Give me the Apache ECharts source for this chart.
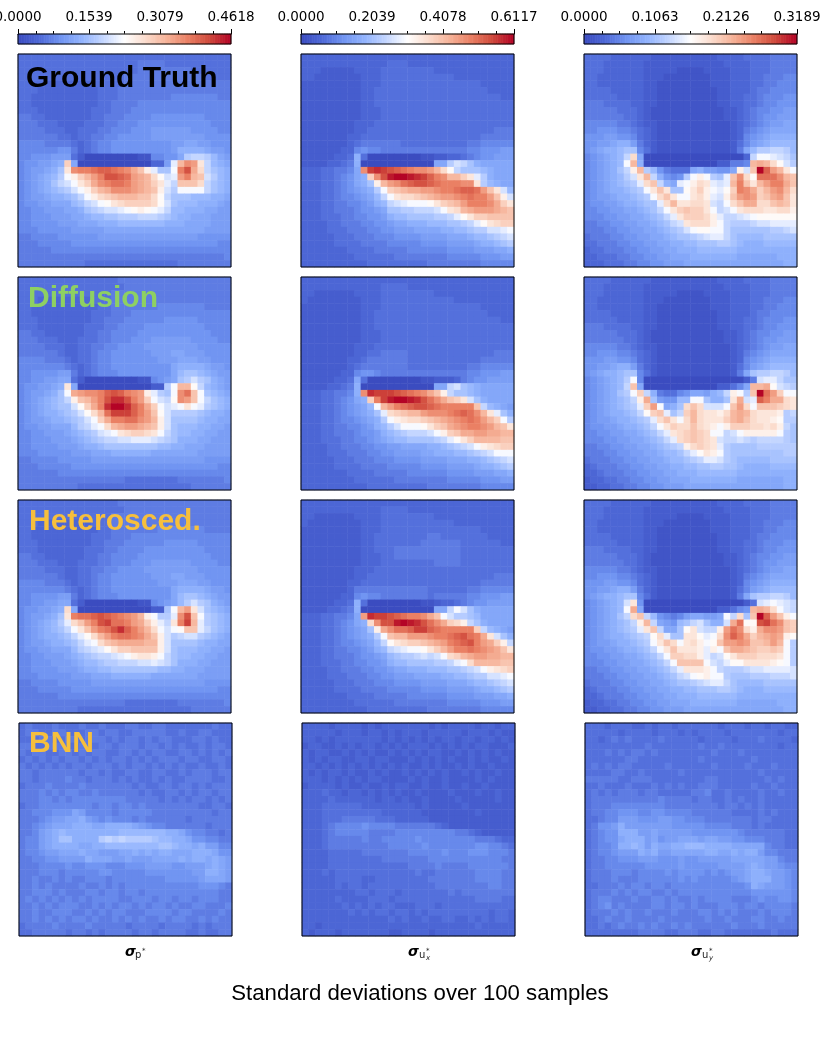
<!DOCTYPE html>
<html>
<head>
<meta charset="utf-8">
<style>html,body{margin:0;padding:0;background:#fff}#chart{width:831px;height:1038px}</style>
<script src="https://cdn.jsdelivr.net/npm/echarts@6/dist/echarts.min.js"></script>
</head>
<body>
<div id="chart"></div>
<script>
// each row is 32 cells, one base-36 digit per cell: 0 = bottom of the colour bar, z = top
const gtP = [
"44444444 44444444 44444444 44444444","44444444 44444444 44555544 44444444","44444444 44444444 44555555 55444444","44444444 44444444 55555555 55554444",
"44443333 33344444 55555555 55555555","44433333 33334445 55555555 55555555","44333333 33334445 55555556 66666655","44333333 33334455 55666666 66666666",
"44433333 33344455 56666666 66666666","55443333 33344555 66667777 77776666","55544433 33444556 66777777 77777666","55554443 34445566 67778888 88777766",
"55555544 34455667 77778888 88887777","66665555 43456677 77777778 89988777","66666677 53456677 77777778 aaaa9887","66777888 42000000 00116677 9deedb98",
"677889am 90000000 0000338g orqkeba9","67889ack rsstuuts rpnjgcch svplecba","6789abdh jmoqsvvu tqpolifg qsonfdba","6789acef hkmprstt sqpomkge nnnlecba",
"6789abcd fhjmoprr rqponjfd hhhhecba","67889aab cehjlmno oonnliec ccbbbaa9","67788999 bcefhikl mmmmlifc bbbaaa98","66778889 9acdeffg hijihgeb baaa9988",
"66777888 99abbccd ddeeedcb aa999888","66777788 8999aaab bbbbbbaa a9999888","66677777 88888999 99999999 99998888","55666677 77778888 88888888 88877777",
"55566666 77777777 77777777 77777766","55555666 66666666 66666666 66666666","55555555 55555555 55555555 55555556","55555555 55444444 44444444 55555555"];
const gtUx = [
"33333333 33333333 33333333 33333333","33333333 33333444 33333333 33333333","33322222 33334444 44443333 33333333","33222222 23334444 44444443 33333333",
"22222222 23334444 44444444 44433333","22222222 23344444 44444444 44443333","22222222 23344444 44444444 44444433","22222222 23344444 44444444 44444444",
"22222222 23334444 44444444 44444444","22222222 23334444 44444444 44444444","22222222 33344444 44444444 44444444","22222222 33444444 44444444 44444555",
"22222223 34444444 44444444 44455555","22222223 45555554 44444444 45566666","22222233 67665555 55555555 56677788","22222334 a4000000 00112233 45677888",
"22223345 a0000000 000099df eca99999","33344556 9rwxwvut srrqolie cccba999","33344567 9amrvyzz yxwusroo mkgda999","33344567 9acjoqrt uvvutsss rrkdba99",
"33344567 89adhmno ppqqrsst uutqnkfb","33344566 789behkl lmnopqqr stssqnjf","33344556 678abefg hhhikmno qsssrpmk","33344555 67789ccd deeefhkl opqqqpon",
"33344455 66778abb ccccddeg ikmmnnnn","33334455 56677899 aaabbbcc degiklmm","33334445 55667788 89999aab bcddffgh","33333444 55566677 77888899 9abbcdef",
"33333444 45555666 66777788 889aabcd","33333334 44455555 66666677 7788899a","33333333 44444455 55555566 66677788","33333333 33444444 44455555 55566666"];
const gtUy = [
"44443333 33222222 22223333 44445555","44433333 32222222 22222333 34445555","44433333 32222211 11222233 34445555","44333333 32221111 11122233 34455566",
"44333333 32211111 11122233 34455666","44443333 32211111 11112233 34556666","44444333 32211111 11112233 44566677","55544443 32211111 11112233 44566777",
"55555444 32111111 11111223 45667788","55555544 32111111 11111223 45677888","66666554 32211111 11111123 45678899","66777665 43211111 11111123 56789999",
"77788776 43211111 11111123 6789aaaa","77889aa8 53211111 11111124 689abbbb","789aabcc 64211111 11111125 9bddeedb","6789abel 90000000 00000000 3ehhgfec",
"6789abho a0000000 00002255 6opolifd","6789acej odb75444 9a88779j fnzuqokh","6789abdf koea767d hjhdcgnr litttron","6789abcd glnea9gh jlkgfgos nkoqsspn",
"6789aabc dhknkcci kmjhgims rpmoqrol","67889aab cdhlnkhh kljgfjnq rqmnpqnk","677889aa bccglokk llkfehln ppllnonk","66778899 abcehkmn mmkhefhk lllkkllj",
"66677889 9abcegkm mmljgeef ghiiiiii","55667788 99abcefk llljhedd deffgggg","55566778 899abcdf hiihhecc ccccddef","45556677 8899abcc defggecb bbbccccc",
"44555667 78899aab bcccddcb aaabbbbb","34455566 778899aa abbbbbba aaaaaaaa","33444556 67788999 aaaaaaa9 99999aaa","33344455 66778889 99999999 999999aa"];

const diffP = [
"44444444 44444445 55555555 55555555","44444444 44444444 55555555 55555555","44444444 44444455 55555555 55555555","44433333 33344455 55555555 55555555",
"44333333 33334455 55555666 66665555","44333333 33344455 56666666 66666666","44433333 33344555 66666677 77766666","44433333 33444556 66677777 77776666",
"55443333 33445566 66777777 77777666","55544433 34445566 67778888 88777766","55554443 34455667 77788888 88877777","55555543 34456677 77778889 98887777",
"66665554 34456677 77777888 99988777","66666665 43456677 77777779 aaaa9887","66777788 53456667 77777779 bccba988","66778899 42000000 00116789 cdfdca98",
"677889ak 90000000 000022dh ooieba98","67889ach pqrrsuvu srqjgdch rtnhcba9","6789abce jnoqsvxx vsqmhfei rqnhecba","6789abcc fimpsxzz xuspmhfg hkhgdcba",
"6789aabc dfilotww wusqnifd dddcbaa9","67889aab cdfhmpss ttrqojfc cccbaa99","67788999 bdeghlop qqponjfc bbbaa998","66778889 abcdfghk lmmlkhec bbaa9988",
"66777888 9abcdeef fgggfedc aaa99888","66777788 89aabccc cccccbba a9998888","66677777 888999aa aaaa9999 99988888","55666677 77788888 88888888 88887777",
"55566666 77777777 77777777 77777766","55555566 66666666 66666666 66666666","55555555 55555555 44444444 55555556","55555555 54444444 44444444 44555555"];
const diffUx = [
"33333333 33333333 33333333 33333333","33333333 33334444 33333333 33333333","33222222 33334444 44443333 33333333","32222222 23334444 44444443 33333333",
"22222222 23334444 44444444 44433333","22222222 23344444 44444444 44443333","22222222 23344444 44444444 44444433","22222222 23344444 44444444 44444444",
"22222222 23334444 44444444 44444444","22222222 23334444 44444444 44444444","22222222 33344444 44444444 44444444","22222222 33445555 44444444 44444555",
"22222223 34555555 44444444 44455555","22222223 45555555 44444444 45566666","22222233 67765555 55555555 56677788","22222334 94000000 00112223 56778888",
"22223345 a0000000 000099ef cba99999","33344556 arxwwwvu tsrpnjec cba99999","33344567 9amswyzz yxvtrpnm kfca9999","33344567 89bhoqst uvvutsss ssneba98",
"33344567 89acglmn ooqrrrst utrokgca","33344566 789adhjk llmnopqr stsqomhd","33344556 678abdfh hhikmnpq rssrqonk","33344555 6778abcd eeefhjmn ppqqppoo",
"33344455 66789abb ccccdegi kmoooonn","33334455 56677889 999aabcd efhjklmm","33334445 55667788 8899aaab bcdefhhh","33333444 55566677 77888899 9aabcdef",
"33333444 45555666 66777788 889aabcd","33333334 44455555 66666677 7788899a","33333333 44444455 55555566 66677788","33333333 33444444 44455555 55566666"];
const diffUy = [
"44443333 33222222 22223333 44445555","44433333 32222222 22222333 34445555","44433333 32222211 11222233 34445555","44333333 32221111 11122233 34455566",
"44333333 32211111 11122233 34455666","44443333 32211111 11112233 34556666","44444333 32211111 11112233 44566677","55544443 32211111 11112233 44566777",
"55555444 32111111 11111223 45667788","55555544 32111111 11111223 45677888","66666554 32211111 11111123 45678899","66777665 43211111 11111123 56789999",
"77788776 43211111 11111123 6789aaaa","77889aa8 53211111 11111124 689abbbb","789aabcc 64211111 11111125 9cddeedb","6789abdh 60000000 00000000 25fggecc",
"6789aben 90000000 00002246 9oopifed","6789acdh mea54467 998abejh dnztqmhh","6789abce jpc877bb hhcaackp fguspplk","6789abcd gmqh9acl nlfffhnq lhnnnmlk",
"6789aabc eimngcem olkkjlop olkkkjde","67889aab cdglnkhl olkkkmop nlkkjidd","677889aa bcehkmll nlkjhjmm mllkljec","66778899 abcegklm nmlhhefh jjjjjhdc",
"66677889 9abceglm nmlkfeef edeeeedc","55667788 99abcdej lmlkgdcc ccdddddd","55566778 899abbce gikjhdcc ccccccdd","45556677 8899abbc deggfdcb bbbbcccc",
"34555667 78899aab bccddccb aaaabbbb","33455566 778899aa abbbbbba aaaaaaaa","23344556 67788999 aaaaaaa9 999999aa","22334455 66778889 99999999 999999aa"];

const hetP = [
"44444444 44444445 55555555 55555555","44444444 44444444 55555555 55555555","44444444 44444455 55555555 55555555","44433333 33344455 55555555 55555555",
"44333333 33334455 55555666 66665555","44333333 33344455 56666666 66666666","44433333 33344555 66666677 77766666","44433333 33444556 66677777 77776666",
"55443333 33445566 66777777 77777666","55544433 34445566 67778888 88777766","55554443 34455667 77788888 88877777","55555543 34456677 77778889 98887777",
"66665554 34456677 77777888 99988777","66666665 43456677 77777779 aaaa9887","66777788 53456667 77777779 bccba988","66778899 42000000 00116789 bdfdca98",
"677889al 90000000 000022ch oqkfcba9","67889ack sttuvuts rqojhddg rvnhdcba","6789abdg lnqsvwtt sqpmjgek swogdcba","6789abce hknqstvx usqolhfh inngecba",
"6789aabc egiloqst tsrpnjfd effdcba9","67889aab ceghlnop pppoojfc cccbaa99","67788999 bdefgikm mnnnnjfc bbbaa998","66778889 abcdeefg hjkkjhec bbaa9988",
"66777888 9abbcdde eeffgfec aaa99888","66777788 89aabbcc cccccbba a9998888","66677777 888999aa aaaa9999 99988888","55666677 77788888 88888888 88887777",
"55566666 77777777 77777777 77777766","55555566 66666666 66666666 66666666","55555555 55555555 44444444 55555556","55555555 54444444 44444444 44555555"];
const hetUx = [
"33333333 33333333 33333333 33333333","33333333 33334444 33333333 33333333","33222222 33334444 44443333 33333333","32222222 23334444 44444443 33333333",
"22222222 23334444 44444444 44433333","22222222 23344444 44455444 44443333","22222222 23344444 44555555 44444433","22222222 23344455 55555555 44444444",
"22222222 23334455 55555555 44444444","22222222 23334444 44445555 44444444","22222222 33344444 44444444 44444444","22222222 33444444 44444444 44444555",
"22222223 34444444 44444444 44455555","22222223 55555555 55544444 45566666","22222233 67665555 55545555 56677788","22222334 a4000000 00112334 56778888",
"22223345 a0000000 000099eh fca99999","33344556 9qxwwvut ssrpnhfd dcb99999","33344567 9alrvvyz yxvtrpml jeca9999","33344567 89cjprtt uwwutsss ssmeba98",
"33344567 89adhnoo qqqrsstu vtspkfca","33344566 789beikl mmnopqst uvsqpmje","33344556 678abefg hhikmoqs stsrqpnk","33344555 67789bcd defefhlm opqqppoo",
"33344455 66778abb ccccddeg hloooonn","33334455 56677899 aaabbbcc defhjklm","33334445 55667788 89999aab bcddffgh","33333444 55566677 77888899 9abbcdef",
"33333444 45555666 66777788 889aabcd","33333334 44455555 66666677 7788899a","33333333 44444455 55555566 66677788","33333333 33444444 44455555 55566666"];
const hetUy = [
"44443333 33222222 22223333 44445555","44433333 32222222 22222333 34445555","44433333 32222211 11222233 34445555","44333333 32221111 11122233 34455566",
"44333333 32211111 11122233 34455666","44443333 32211111 11112233 34556666","44444333 32211111 11112233 44566677","55544443 32211111 11112233 44566777",
"55555444 32111111 11111223 45667788","55555544 32111111 11111223 45677888","66666554 32211111 11111123 45678899","66777665 43211111 11111123 56789999",
"77788776 43211111 11111123 6789aaaa","77889aa8 53211111 11111124 689abbbb","789aabcc 64211111 11111125 9cddeedb","6789abfk 70000000 00000000 24fghgfe",
"6789abhp 90000000 00002246 7opolhfe","6789acel neb76568 99889hel cnzuqnjh","6789abce joe987bc efcaafpt iivwtrnm","6789abcd gkne99ci kfeejqtr ljprrqnm",
"6789aabc deilgcck kighlrus pmopqpji","67889aab cdhknlhk ljhinqqr qnnoqohd","677889aa bcehknkk kjgjhnpp onmmnmhd","66778899 abcehmml ljgefikm mmlllkhd",
"66677889 9abcehnn nnhfegii kkkkjihd","55667788 99abcegk kkjheddd effggggf","55566778 899abcef hijhhdcc cdddeeef","45556677 8899abcc defggecb bbbccccc",
"34555667 78899aab bcccddcb aaabbbbb","33455566 778899aa abbbbbba aaaaaaaa","23344556 67788999 aaaaaaa9 99999aaa","22334455 66778889 99999999 999999aa"];

const bnnP = [
"45444544 45445444 55445544 44444544","45544554 44554554 45555544 54455444","44455445 54555454 55454554 44554544","55445554 45545545 55455454 54454554",
"54554455 45455445 54545544 55454545","45454545 54545455 45454555 45544554","54545454 55455545 45545454 54454454","55455555 54554544 55445544 54555455",
"55455556 55455545 45445454 45555445","45556555 56555555 54544554 55454555","55565656 65565555 55454455 45455455","55566565 66666666 55555454 54554545",
"45566666 66656656 65655555 55544554","55666777 98666656 66665555 55555455","55567889 9a876766 65655555 54555555","55678999 aaa99aaa a9876655 55554555",
"55689aba aaaaaaab bbbbbbaa 97665545","56689acc aaaadede ddddcbba a9776655","56689aaa a99aabbb bbbbbccb aa9a8866","56678899 9a998889 9a9a9aa9 99aaa977",
"55667788 88a99988 98889999 a9aa9a98","55566667 66777666 77788887 78889a98","55566656 66667766 66677777 7788aa98","55655656 55666566 66666677 77789998",
"55656555 56556565 66666666 66677765","55666565 55665665 66566666 66666655","56565656 56566665 56665665 66566655","55656566 65565656 65656656 55665556",
"55655666 55656566 55566665 66555565","55656565 66565565 65655656 65565655","45555655 55655555 45555455 55454555","44555554 55454555 54554555 54454455"];
const bnnUx = [
"33332333 32323333 33323233 33233233","33333233 32332323 33233333 23332322","33232333 33332323 23232332 33233232","23322323 23323232 33323232 32332223",
"32332232 32322323 23233223 23232322","32323322 33233222 32323232 23232232","33232323 23232323 22323223 23223222","32323323 22323223 23232322 32322322",
"33323232 32332222 32322322 22323222","23333232 23223233 22322322 32232222","33343323 32323232 23222232 22322322","33334333 33323323 22322223 22222322",
"33344444 43333333 32322222 32222222","33344444 44443333 33222222 22322222","33344455 55544433 33322222 22222222","33345666 67666655 55554322 22222222",
"33345666 66555566 66666665 54322222","33345555 56556666 67666666 66555433","33345555 55555666 66766666 66776654","33334444 45555555 66666766 67776665",
"33334444 44445555 55566666 66666655","33334444 44444444 55556555 56666665","33343444 44444444 45445555 55666655","33333444 43344444 44455555 55666655",
"33333434 43444444 44445555 55556655","33333333 44344434 44444454 55555555","33333433 33444344 44444444 44555544","33333343 43434433 34443444 44444444",
"33333334 34344344 34344444 44443443","33333333 33333434 33433443 34343443","33233333 33333333 33333333 33433333","32333233 33333223 33323333 33333333"];
const bnnUy = [
"44434443 34344344 44443444 34434433","44444344 44344434 34444344 44444344","44345454 44454444 43444434 44544443","44444444 45444444 45445444 44444344",
"44454545 54544444 44454445 44444444","44444455 44444444 45444444 45444444","45454554 44445444 44454444 54445444","44445544 54444454 44444444 44544444",
"55555445 55444444 44554444 44454544","44544454 44545454 45554444 45445444","45454555 45544444 55644544 44544544","45555555 55565555 45544545 44544444",
"45556666 66665555 55554554 54544444","45566777 66776666 55555544 44545444","44566888 77788776 66555555 54554444","45778a88 88888777 77666655 54544444",
"45677aaa 88988888 77777776 55555544","456779aa a8978899 98998877 66655544","45667aab a8a99aab bbaaaa99 99965544","45667888 a9a88999 99aa99a9 aa866555",
"45566777 88877787 78888899 99988655","45566666 67777787 77778888 9a988766","45556665 66667677 77676788 9aa98876","45556555 66666676 76666678 9aaa8876",
"44555656 65665666 66666666 7a988876","45556565 66556566 66666666 67777776","45665556 55665655 65666655 56766776","45675655 55665665 65556665 66566665",
"45556565 56555655 56656565 55656665","44565565 55565555 55655655 56655655","44545655 65655656 55555565 55655555","44444444 55554455 54455444 44445444"];

const panels = [
  [gtP, gtUx, gtUy],
  [diffP, diffUx, diffUy],
  [hetP, hetUx, hetUy],
  [bnnP, bnnUx, bnnUy]
];
const barTicks = [
  ['0.0000', '0.1539', '0.3079', '0.4618'],
  ['0.0000', '0.2039', '0.4078', '0.6117'],
  ['0.0000', '0.1063', '0.2126', '0.3189']
];
const rowTitles = ['Ground Truth', 'Diffusion', 'Heterosced.', 'BNN'];
const titleColors = ['#000000', '#8ed062', '#f6bf3d', '#f6bf3d'];

const lefts = [18, 301, 584];
const tops = [54, 277, 500, 723];
const size = 213;
const cellIdx = [];
for (let i = 0; i < 32; i++) cellIdx.push(i);

const grids = [], xAxes = [], yAxes = [], series = [], graphic = [];

function addHeat(grid, xData, yData, data) {
  const idx = grids.length;
  grids.push(Object.assign({
    show: true, borderColor: '#000', borderWidth: 1, backgroundColor: 'transparent', z: 5,
    outerBoundsMode: 'none'
  }, grid));
  xAxes.push({ type: 'category', gridIndex: idx, data: xData, show: false });
  yAxes.push({ type: 'category', gridIndex: idx, data: yData, inverse: true, show: false });
  series.push({
    type: 'heatmap', xAxisIndex: xAxes.length - 1, yAxisIndex: yAxes.length - 1,
    data: data, silent: true, progressive: 0, emphasis: { disabled: true }
  });
  return idx;
}

panels.forEach((row, r) => {
  row.forEach((rows, c) => {
    const data = [];
    rows.forEach((s, y) => {
      const cells = s.replace(/ /g, '');
      for (let x = 0; x < cells.length; x++) data.push([x, y, parseInt(cells[x], 36)]);
    });
    const off = r === 3 ? 1 : 0;
    addHeat({ left: lefts[c] + off, top: tops[r], width: size, height: size }, cellIdx, cellIdx, data);
  });
});

// colour bars on top, the ticks sit on a second x axis
barTicks.forEach((labels, c) => {
  const steps = [], data = [];
  for (let i = 0; i < 128; i++) { steps.push(i); data.push([i, 0, i * 35 / 127]); }
  const idx = addHeat({ left: lefts[c], top: 34, width: size, height: 10 }, steps, ['bar'], data);
  xAxes.push({
    type: 'value', gridIndex: idx, position: 'top', min: 0, max: 3, interval: 1,
    axisLine: { show: true, lineStyle: { color: '#000', width: 1 } },
    axisTick: { show: true, length: 5, inside: false, lineStyle: { color: '#000', width: 1 } },
    minorTick: { show: true, splitNumber: 4, length: 3, lineStyle: { color: '#000', width: 1 } },
    splitLine: { show: false },
    axisLabel: {
      show: true, margin: 10, fontFamily: 'DejaVu Sans', fontSize: 13.5, color: '#000',
      showMinLabel: true, showMaxLabel: true, hideOverlap: false,
      formatter: v => labels[v]
    }
  });
});

function text(x, y, str, font, fill, align) {
  graphic.push({
    type: 'text', x: x, y: y, z: 20, silent: true,
    style: { text: str, font: font, fill: fill, align: align || 'left', verticalAlign: 'middle' }
  });
}

const titleSpots = [[26, 79, 30], [28, 299, 30], [29, 522, 30], [29, 744, 30]];
rowTitles.forEach((t, i) => {
  text(titleSpots[i][0], titleSpots[i][1], t, 'bold ' + titleSpots[i][2] + 'px "Liberation Sans"', titleColors[i]);
});

const sigmaFont = 'italic bold 14px "DejaVu Sans"';
text(125, 952, 'σ', sigmaFont, '#000');
text(135, 955, 'p', '10px "DejaVu Sans"', '#222');
text(142, 951, '*', '7px "DejaVu Sans"', '#222');
text(408, 952, 'σ', sigmaFont, '#000');
text(419, 955, 'u', '10px "DejaVu Sans"', '#222');
text(426, 951, '*', '7px "DejaVu Sans"', '#222');
text(426, 958, 'x', 'italic 7px "DejaVu Sans"', '#222');
text(691, 952, 'σ', sigmaFont, '#000');
text(702, 955, 'u', '10px "DejaVu Sans"', '#222');
text(709, 951, '*', '7px "DejaVu Sans"', '#222');
text(709, 958, 'y', 'italic 7px "DejaVu Sans"', '#222');

text(420, 994, 'Standard deviations over 100 samples', '22.2px "Liberation Sans"', '#000', 'center');

const chart = echarts.init(document.getElementById('chart'));
chart.setOption({
  animation: false,
  backgroundColor: '#fff',
  grid: grids,
  xAxis: xAxes,
  yAxis: yAxes,
  visualMap: {
    show: false, min: 0, max: 35, calculable: false,
    seriesIndex: series.map((s, i) => i),
    inRange: { color: ['#3b4cc0', '#4f6ad8', '#7195f2', '#93b4fe', '#c4d6ff', '#ffffff', '#fbdccd', '#f6b298', '#ea8064', '#d04a3c', '#b40426'] }
  },
  series: series,
  graphic: graphic
});
</script>
</body>
</html>
